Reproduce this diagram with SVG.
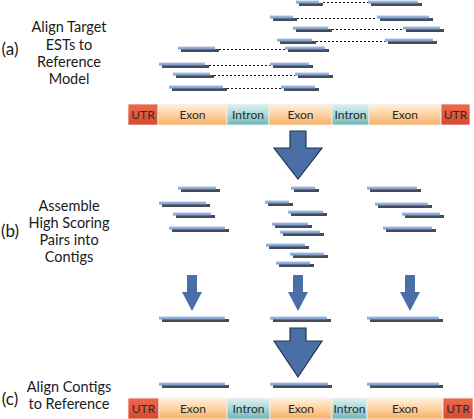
<svg xmlns="http://www.w3.org/2000/svg" width="474" height="419" viewBox="0 0 474 419">
<defs>
<linearGradient id="gExon" x1="0" y1="0" x2="0" y2="1"><stop offset="0" stop-color="#fff1df"/><stop offset="0.5" stop-color="#fdd3a2"/><stop offset="1" stop-color="#f7ae63"/></linearGradient>
<linearGradient id="gIntron" x1="0" y1="0" x2="0" y2="1"><stop offset="0" stop-color="#dff1f1"/><stop offset="0.5" stop-color="#a9d8da"/><stop offset="1" stop-color="#6fb6ba"/></linearGradient>
<linearGradient id="gUTR" x1="0" y1="0" x2="0" y2="1"><stop offset="0" stop-color="#ec6a4e"/><stop offset="1" stop-color="#d9482f"/></linearGradient>
<linearGradient id="gLight" x1="0" y1="0" x2="0" y2="1"><stop offset="0" stop-color="#a9c1e6"/><stop offset="1" stop-color="#7597cc"/></linearGradient>
</defs>
<style>
.lbl{font-family:"Lato","Liberation Sans",sans-serif;font-size:14.5px;fill:#1a1a1a;text-anchor:middle}
.tag{font-family:"Lato","Liberation Sans",sans-serif;font-size:17px;fill:#1a1a1a;text-anchor:middle}
.seg{font-family:"Lato","Liberation Sans",sans-serif;font-size:12px;fill:#2a2a2a;text-anchor:middle}
.utr{fill:url(#gUTR);stroke:#f3f3f3;stroke-width:0.8}
.exon{fill:url(#gExon);stroke:#f3f3f3;stroke-width:0.8}
.intron{fill:url(#gIntron);stroke:#f3f3f3;stroke-width:0.8}
.l{fill:url(#gLight)}
.d{fill:#464c58}
.dash{stroke:#111;stroke-width:1.2;stroke-dasharray:2,2;fill:none}
.big{fill:#4a6ea6;stroke:#24344f;stroke-width:1.2}
.small{fill:#4a6ea6}
</style>

<g id="labels">
<text class="tag" x="10" y="55">(a)</text>
<text class="lbl" x="69" y="32">Align Target</text>
<text class="lbl" x="69" y="49.5">ESTs to</text>
<text class="lbl" x="69" y="67">Reference</text>
<text class="lbl" x="69" y="84">Model</text>
<text class="tag" x="10" y="237">(b)</text>
<text class="lbl" x="69" y="211">Assemble</text>
<text class="lbl" x="69" y="228">High Scoring</text>
<text class="lbl" x="69" y="245">Pairs into</text>
<text class="lbl" x="69" y="262">Contigs</text>
<text class="tag" x="10" y="405">(c)</text>
<text class="lbl" x="69" y="392">Align Contigs</text>
<text class="lbl" x="69" y="409">to Reference</text>
</g>

<g id="ref-model-a">
<rect class="utr" x="128" y="104" width="30" height="21"/><text class="seg" x="143" y="119">UTR</text>
<rect class="exon" x="158" y="104" width="69" height="21"/><text class="seg" x="192.5" y="119">Exon</text>
<rect class="intron" x="227" y="104" width="42" height="21"/><text class="seg" x="248" y="119">Intron</text>
<rect class="exon" x="269" y="104" width="63" height="21"/><text class="seg" x="300.5" y="119">Exon</text>
<rect class="intron" x="332" y="104" width="37" height="21"/><text class="seg" x="350.5" y="119">Intron</text>
<rect class="exon" x="369" y="104" width="72" height="21"/><text class="seg" x="405" y="119">Exon</text>
<rect class="utr" x="441" y="104" width="29" height="21"/><text class="seg" x="455.5" y="119">UTR</text>
</g>

<g id="ref-model-c">
<rect class="utr" x="128" y="398" width="31" height="21"/><text class="seg" x="143.5" y="413">UTR</text>
<rect class="exon" x="159" y="398" width="68" height="21"/><text class="seg" x="193" y="413">Exon</text>
<rect class="intron" x="227" y="398" width="43" height="21"/><text class="seg" x="248.5" y="413">Intron</text>
<rect class="exon" x="270" y="398" width="62" height="21"/><text class="seg" x="301" y="413">Exon</text>
<rect class="intron" x="332" y="398" width="35" height="21"/><text class="seg" x="349.5" y="413">Intron</text>
<rect class="exon" x="367" y="398" width="76" height="21"/><text class="seg" x="405" y="413">Exon</text>
<rect class="utr" x="443" y="398" width="30" height="21"/><text class="seg" x="458" y="413">UTR</text>
</g>

<g id="connectors">
<line class="dash" x1="323" y1="2.5" x2="368" y2="2.5"/>
<line class="dash" x1="297" y1="18.5" x2="377" y2="18.5"/>
<line class="dash" x1="332" y1="29.5" x2="403" y2="29.5"/>
<line class="dash" x1="316" y1="41.5" x2="385" y2="41.5"/>
<line class="dash" x1="219" y1="49.5" x2="285" y2="49.5"/>
<line class="dash" x1="209" y1="65.5" x2="270" y2="65.5"/>
<line class="dash" x1="214" y1="75.5" x2="295" y2="75.5"/>
<line class="dash" x1="227" y1="88.5" x2="281" y2="88.5"/>
<polygon id="arrow-big-1" class="big" points="290,131 306,131 306,148 322,148 298,179 274,148 290,148"/>
<polygon id="arrow-big-2" class="big" points="290,328 306,328 306,341 322,341 298,377 274,341 290,341"/>
<polygon id="arrow-s1" class="small" points="187,275 197,275 197,292 202,292 192,311 182,292 187,292"/>
<polygon id="arrow-s2" class="small" points="293,275 303,275 303,292 308,292 298,311 288,292 293,292"/>
<polygon id="arrow-s3" class="small" points="405,275 415,275 415,292 420,292 410,311 400,292 405,292"/>
</g>

<g id="ests-a">
<rect class="d" x="299" y="3" width="24" height="3"/><rect class="l" x="296" y="0.5" width="23" height="3"/>
<rect class="d" x="371" y="3" width="51" height="3"/><rect class="l" x="368" y="0.5" width="50" height="3"/>
<rect class="d" x="273" y="18" width="24" height="3"/><rect class="l" x="270" y="15.5" width="23" height="3"/>
<rect class="d" x="380" y="18" width="53" height="3"/><rect class="l" x="377" y="15.5" width="52" height="3"/>
<rect class="d" x="296" y="29" width="36" height="3"/><rect class="l" x="293" y="26.5" width="35" height="3"/>
<rect class="d" x="406" y="29" width="38" height="3"/><rect class="l" x="403" y="26.5" width="37" height="3"/>
<rect class="d" x="280" y="41" width="36" height="3"/><rect class="l" x="277" y="38.5" width="35" height="3"/>
<rect class="d" x="388" y="41" width="49" height="3"/><rect class="l" x="385" y="38.5" width="48" height="3"/>
<rect class="d" x="181" y="49" width="38" height="3"/><rect class="l" x="178" y="46.5" width="37" height="3"/>
<rect class="d" x="288" y="49" width="41" height="3"/><rect class="l" x="285" y="46.5" width="40" height="3"/>
<rect class="d" x="162" y="65" width="47" height="3"/><rect class="l" x="159" y="62.5" width="46" height="3"/>
<rect class="d" x="273" y="65" width="40" height="3"/><rect class="l" x="270" y="62.5" width="39" height="3"/>
<rect class="d" x="176" y="75" width="38" height="3"/><rect class="l" x="173" y="72.5" width="37" height="3"/>
<rect class="d" x="298" y="75" width="35" height="3"/><rect class="l" x="295" y="72.5" width="34" height="3"/>
<rect class="d" x="172" y="88" width="55" height="3"/><rect class="l" x="169" y="85.5" width="54" height="3"/>
<rect class="d" x="284" y="88" width="35" height="3"/><rect class="l" x="281" y="85.5" width="34" height="3"/>
</g>

<g id="hsps-b1">
<rect class="d" x="181" y="189" width="39" height="3"/><rect class="l" x="178" y="186.5" width="38" height="3"/>
<rect class="d" x="162" y="204" width="48" height="3"/><rect class="l" x="159" y="201.5" width="47" height="3"/>
<rect class="d" x="176" y="215" width="39" height="3"/><rect class="l" x="173" y="212.5" width="38" height="3"/>
<rect class="d" x="172" y="229" width="57" height="3"/><rect class="l" x="169" y="226.5" width="56" height="3"/>
</g>

<g id="hsps-b2">
<rect class="d" x="294" y="189" width="25" height="3"/><rect class="l" x="291" y="186.5" width="24" height="3"/>
<rect class="d" x="268" y="203" width="25" height="3"/><rect class="l" x="265" y="200.5" width="24" height="3"/>
<rect class="d" x="291" y="213" width="36" height="3"/><rect class="l" x="288" y="210.5" width="35" height="3"/>
<rect class="d" x="275" y="225" width="37" height="3"/><rect class="l" x="272" y="222.5" width="36" height="3"/>
<rect class="d" x="283" y="233" width="41" height="3"/><rect class="l" x="280" y="230.5" width="40" height="3"/>
<rect class="d" x="269" y="246" width="40" height="3"/><rect class="l" x="266" y="243.5" width="39" height="3"/>
<rect class="d" x="293" y="255" width="35" height="3"/><rect class="l" x="290" y="252.5" width="34" height="3"/>
<rect class="d" x="279" y="264" width="35" height="3"/><rect class="l" x="276" y="261.5" width="34" height="3"/>
</g>

<g id="hsps-b3">
<rect class="d" x="370" y="189" width="51" height="3"/><rect class="l" x="367" y="186.5" width="50" height="3"/>
<rect class="d" x="378" y="205" width="54" height="3"/><rect class="l" x="375" y="202.5" width="53" height="3"/>
<rect class="d" x="405" y="215" width="39" height="3"/><rect class="l" x="402" y="212.5" width="38" height="3"/>
<rect class="d" x="386" y="229" width="50" height="3"/><rect class="l" x="383" y="226.5" width="49" height="3"/>
</g>

<g id="contigs-b">
<rect class="d" x="162" y="319" width="67" height="3"/><rect class="l" x="159" y="316.5" width="66" height="3"/>
<rect class="d" x="273" y="319" width="58" height="3"/><rect class="l" x="270" y="316.5" width="57" height="3"/>
<rect class="d" x="370" y="319" width="73" height="3"/><rect class="l" x="367" y="316.5" width="72" height="3"/>
</g>

<g id="contigs-c">
<rect class="d" x="162" y="385" width="67" height="3"/><rect class="l" x="159" y="382.5" width="66" height="3"/>
<rect class="d" x="273" y="385" width="59" height="3"/><rect class="l" x="270" y="382.5" width="58" height="3"/>
<rect class="d" x="370" y="385" width="73" height="3"/><rect class="l" x="367" y="382.5" width="72" height="3"/>
</g>
</svg>
